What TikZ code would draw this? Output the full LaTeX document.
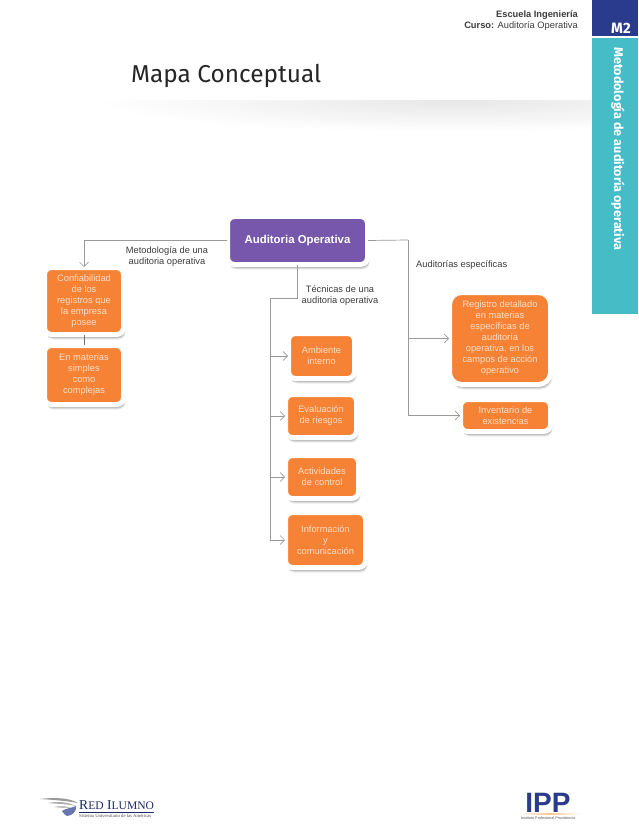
\documentclass[tikz,border=0pt]{standalone}
\usepackage{fontspec}
\setmainfont{Liberation Sans}
\newfontfamily\titlefont{Fira Sans}
\newfontfamily\logofont{Liberation Serif}
\usetikzlibrary{arrows.meta,shadows,fadings}
\definecolor{navybar}{HTML}{2A3A8C}
\definecolor{tealbar}{HTML}{45BCC6}
\definecolor{boxorange}{HTML}{F58235}
\definecolor{boxpurple}{HTML}{7657AB}
\definecolor{boxtext}{HTML}{FCE0CC}
\definecolor{linkgray}{HTML}{9A9A9A}
\definecolor{labelgray}{HTML}{3C3C3C}
\tikzfading[name=bandfade,inner color=transparent!0,outer color=transparent!100]
\tikzset{
  box/.style={draw=white,line width=5pt,outer sep=.5pt,rounded corners=7pt,fill=boxorange,text=boxtext,align=center,
    font=\fontsize{9.3}{11}\selectfont,inner sep=0pt,
    drop shadow={shadow xshift=1pt,shadow yshift=-3pt,opacity=.16,fill=black},
    drop shadow={shadow xshift=1.5pt,shadow yshift=-4pt,opacity=.12,fill=black},
    drop shadow={shadow xshift=2pt,shadow yshift=-5pt,opacity=.07,fill=black}},
  link/.style={draw=linkgray,line width=.7pt},
  arrowlink/.style={link,-{Straight Barb[length=4.5pt,width=9pt,line width=.6pt]}},
  lab/.style={text=labelgray,align=center,font=\fontsize{9.3}{11}\selectfont,inner sep=0pt}
}
\begin{document}
\begin{tikzpicture}[x=1pt,y=-1pt]
    \useasboundingbox (0,0) rectangle (638,826);
    \fill[white] (0,0) rectangle (638,826);
    % header
    \begin{scope}
      \clip (100,101) rectangle (592,135);
      \fill[black!9,path fading=bandfade] (105,71) rectangle (805,131);
    \end{scope}
    \fill[navybar] (592,0) rectangle (638,36);
    \fill[tealbar] (592,38) rectangle (638,314);
    \node[text=white,font=\titlefont\bfseries\fontsize{15}{15}\selectfont] (modulo) at (621,28) {M2};
    \node[text=white,rotate=-90,anchor=west,inner sep=0pt,font=\titlefont\bfseries\fontsize{12.6}{14}\selectfont] (lateral) at (618,47) {Metodología de auditoría operativa};
    \node[anchor=east,inner sep=0pt,text=labelgray,font=\bfseries\fontsize{9.3}{10}\selectfont] (escuela) at (578,15) {Escuela Ingeniería};
    \node[anchor=east,inner sep=0pt,text=labelgray,font=\fontsize{9.3}{10}\selectfont] (curso) at (578,26) {\textbf{Curso:} Auditoría Operativa};
    \node[anchor=base west,inner sep=0pt,text=black!85,font=\titlefont\fontsize{24.4}{28}\selectfont] (titulo) at (131,83) {Mapa Conceptual};
    % boxes
    \node[box,fill=boxpurple,text=white,font=\bfseries\fontsize{11.4}{12}\selectfont,minimum width=140pt,minimum height=48pt] (root) at (297.5,240.5) {Auditoria Operativa};
    \node[box,minimum width=79pt,minimum height=67pt] (conf) at (84,301) {Confiabilidad\\de los\\registros que\\la empresa\\posee};
    \node[box,minimum width=79pt,minimum height=59pt] (simples) at (84,375) {En materias\\simples\\como\\complejas};
    \node[box,minimum width=66pt,minimum height=45pt] (ambiente) at (321.5,356) {Ambiente\\interno};
    \node[box,minimum width=71pt,minimum height=43pt] (riesgos) at (321,416) {Evaluación\\de riesgos};
    \node[box,minimum width=73pt,minimum height=43pt] (control) at (322,477) {Actividades\\de control};
    \node[box,minimum width=80pt,minimum height=55pt] (info) at (325.5,540) {Información\\y\\comunicación};
    \node[box,rounded corners=12pt,minimum width=101pt,minimum height=92pt] (registro) at (500,338.5) {Registro detallado\\en materias\\específicas de\\auditoría\\operativa, en los\\campos de acción\\operativo};
    \node[box,minimum width=90pt,minimum height=32pt] (inventario) at (505.5,415.5) {Inventario de\\existencias};
    % link labels
    \node[lab] (labmetodo) at (167,256.5) {Metodología de una\\auditoria operativa};
    \node[lab] (labtecnicas) at (340,295.5) {Técnicas de una\\auditoria operativa};
    \node[lab,anchor=west] (labauditorias) at (416,265) {Auditorías específicas};
    % links
    \coordinate (railtec) at (270,298);
    \coordinate (railesp) at (408,240);
    \draw[arrowlink] (root.west) -| (conf.north);
    \draw[link,draw=black!55] (conf.south) -- (simples.north);
    \draw[link] (root.south) |- (railtec);
    \draw[arrowlink] (railtec) |- (ambiente.west);
    \draw[arrowlink] (railtec) |- (riesgos.west);
    \draw[arrowlink] (railtec) |- (control.west);
    \draw[arrowlink] (railtec) |- (info.west);
    \draw[link] (root.east) -- (railesp);
    \draw[arrowlink] (railesp) |- (registro.west);
    \draw[arrowlink] (railesp) |- (inventario.west);
    % logos
    \fill[black!40] (40,799) .. controls (55,797) and (70,798) .. (78,803) .. controls (68,801) and (55,800) .. (40,799) -- cycle;
    \fill[black!32] (48,803) .. controls (58,801) and (68,802) .. (76,806) .. controls (68,804) and (58,804) .. (48,803) -- cycle;
    \fill[black!25] (54,807) .. controls (60,805) and (66,806) .. (71,808) .. controls (66,808) and (60,808) .. (54,807) -- cycle;
    \fill[navybar!70] (62,811) .. controls (66,808) and (72,808) .. (76,806) .. controls (77,811) and (72,816) .. (67,816) .. controls (65,815) and (63,813) .. (62,811) -- cycle;
    \node[anchor=west,inner sep=0pt,text=navybar!70!black,font=\logofont\fontsize{13.6}{14}\selectfont] (redlogo) at (79,805) {R\scalebox{.85}{ED} I\scalebox{.85}{LUMNO}};
    \draw[navybar!70!black,line width=.5pt] (79,812) -- (154,812);
    \node[anchor=west,inner sep=0pt,text=black!70,font=\logofont\fontsize{4.7}{5}\selectfont] (redsub) at (79,815.5) {Sistema Universitario de las Américas};
    \node[anchor=base,inner sep=0pt,text=navybar,font=\bfseries\fontsize{28}{28}\selectfont] (ipplogo) at (548,812.5) {IPP};
    \shade[left color=white,right color=white,middle color=orange!45] (518,813) rectangle (580,814.5);
    \node[inner sep=0pt,text=black!65,font=\fontsize{3.8}{4}\selectfont] (ippsub) at (548,818.5) {Instituto Profesional Providencia};
  \end{tikzpicture}
\end{document}
